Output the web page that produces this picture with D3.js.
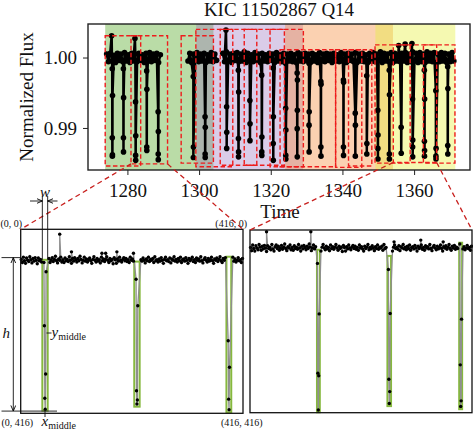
<!DOCTYPE html>
<meta charset="utf-8" />
<title>KIC 11502867 Q14</title>
<script src="https://d3js.org/d3.v7.min.js"></script>
<style>
  body { margin: 0; background: #fff; }
  svg { display: block; font-family: "Liberation Serif", "DejaVu Serif", serif; }
</style>
<div id="chart"></div>
<script>
  // ---------- top light curve ----------
  const segStart = [1274.2, 1296.9, 1306.6];
  const cadence = 0.5; // spacing of the plotted out-of-transit samples (days)
  const seg1Flux = [1.0005, 0.9994, 1.0006, 0.9995, 1.0003, 0.9993, 1.0006, 0.9996, 1.0005, 0.9994,
    1.0007, 0.9995, 1.0004, 0.9993, 1.0006, 0.9995, 1.0005, 0.9994, 1.0006, 0.9996,
    1.0004, 0.9993, 1.0006, 0.9995, 1.0007, 0.9994, 1.0005, 0.9996, 1.0006, 0.9993, 1.0004];
  const seg2Flux = [0.9995, 1.0006, 0.9993, 1.0005, 0.9996, 1.0007, 0.9994, 1.0005, 0.9995, 1.0006,
    0.9993, 1.0004, 0.9995, 1.0007, 0.9994, 1.0005, 0.9996];
  const seg3Flux = [1.0006, 0.9994, 1.0008, 0.9995, 1.0005, 0.9993, 1.0006, 0.9996, 1.0007, 0.9994,
    1.0005, 0.9995, 1.0008, 0.9993, 1.0006, 0.9995, 1.0004, 0.9994, 1.0007, 0.9996,
    1.0005, 0.9993, 1.0006, 0.9995, 1.0004, 0.9994, 1.0006, 0.9996, 1.0005, 0.9993,
    1.0007, 0.9995, 1.0004, 0.9994, 1.0006, 0.9992, 1.0005, 0.9995, 1.0006, 0.9994,
    1.0004, 0.9993, 1.0007, 0.9995, 1.0005, 0.9994, 1.0006, 0.9996, 1.0005, 0.9993,
    1.0006, 0.9995, 1.0004, 0.9993, 1.0007, 0.9995, 1.0005, 0.9994, 1.0006, 0.9996,
    1.0005, 0.9993, 1.0006, 0.9995, 1.0004, 0.9994, 1.0007, 0.9995, 1.0005, 0.9993,
    1.0006, 0.9996, 1.0005, 0.9994, 1.0007, 0.9993, 1.0005, 0.9995, 1.0006, 0.9994,
    1.0004, 0.9993, 1.0006, 0.9995, 1.0007, 0.9994, 1.0005, 0.9996, 1.0008, 0.9993,
    1.0006, 0.9995, 1.0005, 0.9994, 1.0007, 0.9993, 1.0006, 0.9995, 1.0004, 0.9994,
    1.0006, 0.9995, 1.0007, 0.9993, 1.0005, 0.9994, 1.0008, 0.9995, 1.0006, 0.9993,
    1.0007, 0.9994, 1.0005, 0.9993, 1.0008, 0.9995, 1.0006, 0.9994, 1.0007, 0.9993,
    1.0005, 0.9994, 1.0007, 0.9995, 1.0006, 0.9993, 1.0005, 0.9994, 1.0007, 0.9995];

  const transitTimes = [1275.8, 1278.9, 1282.3, 1285.4, 1288.6, 1298.4, 1301.7, 1307.7, 1311.0,
    1314.2, 1317.5, 1320.7, 1324.2, 1327.4, 1330.7, 1334.0, 1340.3, 1343.6, 1346.8, 1349.9,
    1353.1, 1356.4, 1359.6, 1362.9, 1366.1, 1369.4];
  const transitFlux = [
    [0.9984, 0.9886, 0.9860, 0.9862, 0.9946], [0.9984, 0.9886, 0.9866, 0.9943],
    [0.9937, 0.9861, 0.9854, 0.9889], [0.9981, 0.9873, 0.9868, 0.9955],
    [0.9923, 0.9863, 0.9855, 0.9895], [0.9973, 0.9858, 0.9873],
    [0.9916, 0.9863, 0.9858, 0.9901], [0.9930, 0.9871, 0.9894],
    [0.9982, 0.9885, 0.9859, 0.9866, 0.9951], [0.9939, 0.9882, 0.9906],
    [0.9975, 0.9866, 0.9861, 0.9887], [0.9985, 0.9878, 0.9854, 0.9916],
    [0.9928, 0.9861, 0.9856, 0.9897], [0.9978, 0.9899, 0.9859, 0.9925, 0.9968],
    [0.9992, 0.9904, 0.9866, 0.9923], [0.9966, 0.9873, 0.9860, 0.9962],
    [0.9968, 0.9873, 0.9861, 0.9965], [0.9921, 0.9860, 0.9904],
    [0.9974, 0.9863, 0.9878], [0.9925, 0.9871, 0.9856, 0.9890],
    [0.9982, 0.9863, 0.9856, 0.9947], [0.9901, 0.9864],
    [0.9941, 0.9873, 0.9859, 0.9883], [0.9982, 0.9881, 0.9860, 0.9868, 0.9941],
    [0.9953, 0.9860, 0.9856, 0.9871], [0.9987, 0.9875, 0.9863, 0.9956]];
  const outlierTimes = [1275.6, 1282.1, 1307.5, 1355.7, 1357.5, 1359.4];
  const outlierFlux = [1.0031, 1.0027, 1.0039, 1.0017, 1.0019, 1.0020];

  // coloured windows
  const bandStart = [1273.8, 1299.2, 1324.0, 1349.2];
  const bandEnd = [1304.0, 1329.0, 1354.1, 1371.5];
  const bandColors = ["rgb(102,178,60)", "rgb(150,110,190)", "rgb(245,140,60)", "rgb(230,240,60)"];
  const bandOpacity = [0.45, 0.35, 0.4, 0.4];

  // red dashed detection boxes
  const boxStart = [1273.8, 1281.0, 1295.0, 1299.1, 1305.9, 1312.6, 1319.8, 1322.6, 1338.1, 1341.7, 1349.1, 1354.2, 1362.6];
  const boxEnd = [1283.7, 1291.2, 1304.0, 1309.4, 1316.1, 1323.8, 1329.1, 1338.1, 1345.4, 1348.2, 1358.9, 1366.3, 1371.4];
  const boxTop = [1.0031, 1.0031, 1.0031, 1.0040, 1.0040, 1.0040, 1.0040, 1.0011, 1.0011, 1.0011, 1.0018, 1.0018, 1.0018];
  const boxBottom = [0.9846, 0.9849, 0.9850, 0.9845, 0.9847, 0.9847, 0.9845, 0.9845, 0.9844, 0.9846, 0.9850, 0.9851, 0.9850];
  const zoomBoxes = [1, 11]; // boxes shown enlarged below

  const xTicks = [1280, 1300, 1320, 1340, 1360];
  const yTicks = [0.99, 1.00];

  // ---------- enlarged windows (image pixels, 0..416) ----------
  const baseStep = 2;
  const leftBase = [68,75,63,71,77,65,70,73,62,69,76,66,72,64,70,78,
    65,71,68,74,62,72,77,67,63,71,66,75,70,64,73,68,
    61,71,76,67,70,63,74,69,75,65,71,68,73,62,70,77,
    66,72,64,69,74,66,71,61,68,76,70,63,72,67,74,69,
    65,71,77,68,62,70,74,66,72,69,76,63,71,67,73,68,
    62,70,75,66,71,68,78,64,69,77,67,72,63,70,74,68,
    64,71,66,73,69,75,63,70,67,72,77,66,71,68,62,74,
    69,72,65,70,76,67,71,63,73,68,70,66,75,62,71,69,
    74,67,72,64,70,77,68,63,71,69,73,65,76,67,70,62,
    72,68,74,66,71,63,75,69,67,72,64,70,77,66,71,68,
    63,73,69,75,65,70,67,72,62,71,76,68,64,70,74,66,
    72,69,63,71,77,67,70,65,73,68,62,71,75,66,70,64,
    73,68,71,65,76,69,63,72,67,74,70,64,71,69,75,66];
  const rightBase = [40,47,34,42,48,36,41,45,33,39,46,37,43,35,41,49,
    36,42,39,45,33,43,48,38,34,42,37,46,41,35,44,39,
    32,42,47,38,41,34,45,40,46,36,42,39,44,33,41,48,
    37,43,35,40,45,37,42,32,39,47,41,34,43,38,45,40,
    36,42,48,39,33,41,45,37,43,40,47,34,42,38,44,39,
    33,41,46,37,42,39,49,35,40,48,38,43,34,41,45,39,
    35,42,37,44,40,46,34,41,38,43,48,37,42,39,33,45,
    40,43,36,41,47,38,42,34,44,39,41,37,46,33,42,40,
    45,38,43,35,41,48,39,34,42,40,44,36,47,38,41,33,
    43,39,45,37,42,34,46,40,38,43,35,41,48,37,42,39,
    34,44,40,46,36,41,38,43,33,42,47,39,35,41,45,37,
    43,40,34,42,48,38,41,36,44,39,33,42,46,37,41,35,
    44,39,42,36,47,40,34,43,38,45,41,35,42,40,46,37];
  const leftTransitX = [45.5, 217.5, 389.5];
  const leftTransitY = [[75, 218, 382, 407, 327, 96], [113, 365, 395, 386, 173], [252, 384, 408, 312]];
  const leftBoxX0 = [40.5, 212.5, 385], leftBoxX1 = [50.5, 222.6, 394];
  const leftBoxY0 = [69, 73, 62], leftBoxY1 = [410, 401, 414];
  const leftOutX = [73, 95, 152, 159, 180, 211], leftOutY = [11, 51, 54, 54, 51, 54];
  const rightTransitX = [128, 261, 394.8];
  const rightTransitY = [[76, 326, 410, 332, 191], [90, 340, 395, 368, 190], [32, 307, 402, 389, 203]];
  const rightBoxX0 = [125.5, 257.5, 392], rightBoxX1 = [130.8, 264.3, 397.5];
  const rightBoxY0 = [45, 59, 29], rightBoxY1 = [415, 401, 408];
  const rightOutX = [31, 114, 270, 320, 362], rightOutY = [4, 4, 27, 23, 27];

  const W = 473, H = 431;
  const svg = d3.select("#chart").append("svg").attr("width", W).attr("height", H);

  const defs = svg.append("defs");
  defs.append("clipPath").attr("id", "plotclip").append("rect")
    .attr("x", 88).attr("y", 24).attr("width", 382).attr("height", 146);
  defs.append("marker").attr("id", "arr").attr("viewBox", "0 0 8 8")
    .attr("refX", 7.5).attr("refY", 4).attr("markerWidth", 6).attr("markerHeight", 6)
    .attr("markerUnits", "userSpaceOnUse").attr("orient", "auto-start-reverse")
    .append("path").attr("d", "M0,0.8L7.5,4L0,7.2").attr("fill", "none").attr("stroke", "#000").attr("stroke-width", 1.2);

  const x = d3.scaleLinear().domain([1269.0, 1375.6]).range([88, 470]);
  const y = d3.scaleLinear().domain([0.98403, 1.00476]).range([170, 24]);

  const plot = svg.append("g").attr("clip-path", "url(#plotclip)");

  bandStart.forEach((b, i) => {
    plot.append("rect")
      .attr("x", x(b)).attr("y", 24)
      .attr("width", x(bandEnd[i]) - x(b)).attr("height", 146)
      .attr("fill", bandColors[i]).attr("fill-opacity", bandOpacity[i]);
  });

  const segFlux = [seg1Flux, seg2Flux, seg3Flux];
  const segments = segFlux.map((fl, s) => {
    const t0 = segStart[s], t1 = t0 + (fl.length - 1) * cadence;
    const pts = fl.map((f, i) => ({ t: t0 + i * cadence, f }));
    transitTimes.forEach((tc, k) => {
      if (tc < t0 || tc > t1) return;
      const fk = transitFlux[k];
      fk.forEach((f, j) => pts.push({ t: tc + (j - (fk.length - 1) / 2) * 0.02, f }));
    });
    outlierTimes.forEach((tc, k) => {
      if (tc >= t0 && tc <= t1) pts.push({ t: tc, f: outlierFlux[k] });
    });
    return pts.sort((a, b) => a.t - b.t);
  });

  const line = d3.line().x(d => x(d.t)).y(d => y(d.f));
  segments.forEach(pts => {
    plot.append("path").attr("d", line(pts))
      .attr("fill", "none").attr("stroke", "#000").attr("stroke-width", 2.5).attr("stroke-linejoin", "round");
    plot.append("g").selectAll("circle").data(pts).join("circle")
      .attr("cx", d => x(d.t)).attr("cy", d => y(d.f)).attr("r", 2.8).attr("fill", "#000");
  });

  boxStart.forEach((b, i) => {
    plot.append("rect")
      .attr("x", x(b)).attr("y", y(boxTop[i]))
      .attr("width", x(boxEnd[i]) - x(b)).attr("height", y(boxBottom[i]) - y(boxTop[i]))
      .attr("fill", "none").attr("stroke", "#ee1c1c").attr("stroke-width", 1.4)
      .attr("stroke-dasharray", "4.5,2.5");
  });

  // axes
  const xAxis = svg.append("g").attr("transform", "translate(0,170)")
    .call(d3.axisBottom(x).tickValues(xTicks).tickFormat(d3.format("d")).tickSize(5).tickPadding(9));
  const yAxis = svg.append("g").attr("transform", "translate(88,0)")
    .call(d3.axisLeft(y).tickValues(yTicks).tickFormat(d3.format(".2f")).tickSize(5).tickPadding(6));
  [xAxis, yAxis].forEach(a => {
    a.select(".domain").remove();
    a.selectAll("text").attr("font-family", "Liberation Serif").attr("font-size", 19).attr("fill", "#111");
    a.selectAll("line").attr("stroke", "#222").attr("stroke-width", 1);
  });
  svg.append("rect").attr("x", 88).attr("y", 24).attr("width", 382).attr("height", 146)
    .attr("fill", "none").attr("stroke", "#222").attr("stroke-width", 1.4);

  svg.append("text").attr("x", 279).attr("y", 16).attr("text-anchor", "middle")
    .attr("font-size", 19).attr("fill", "#111").text("KIC 11502867 Q14");
  svg.append("text").attr("transform", "translate(33,97) rotate(-90)").attr("text-anchor", "middle")
    .attr("font-size", 19).attr("fill", "#111").text("Normalized Flux");
  svg.append("text").attr("x", 280).attr("y", 218).attr("text-anchor", "middle")
    .attr("font-size", 19).attr("fill", "#111").text("Time");

  // ---------- enlarged panels ----------
  function panel(frame, base, tX, tY, bx0, bx1, by0, by1, oX, oY) {
    const px = d3.scaleLinear().domain([0, 416]).range([frame[0], frame[2]]);
    const py = d3.scaleLinear().domain([0, 416]).range([frame[1], frame[3]]);
    const g = svg.append("g");
    g.append("rect").attr("x", frame[0]).attr("y", frame[1])
      .attr("width", frame[2] - frame[0]).attr("height", frame[3] - frame[1]).attr("fill", "#fff");
    const inBox = v => bx0.some((b, k) => v >= b - 1 && v <= bx1[k] + 1);
    const pts = [];
    base.forEach((v, i) => { const xv = 1 + i * baseStep; if (!inBox(xv)) pts.push({ u: xv, v }); });
    tX.forEach((c, k) => tY[k].forEach((v, j) => pts.push({ u: c + (j - (tY[k].length - 1) / 2) * 0.8, v })));
    oX.forEach((u, k) => pts.push({ u, v: oY[k] }));
    pts.sort((a, b) => a.u - b.u);
    bx0.forEach((b, k) => {
      g.append("rect").attr("x", px(b)).attr("y", py(by0[k]))
        .attr("width", px(bx1[k]) - px(b)).attr("height", py(by1[k]) - py(by0[k]))
        .attr("fill", "none").attr("stroke", "#86b83e").attr("stroke-width", 2);
    });
    g.append("path").attr("d", d3.line().x(d => px(d.u)).y(d => py(d.v))(pts))
      .attr("fill", "none").attr("stroke", "#8f8f8f").attr("stroke-width", 1.3);
    g.selectAll("circle").data(pts).join("circle")
      .attr("cx", d => px(d.u)).attr("cy", d => py(d.v)).attr("r", 1.7).attr("fill", "#000");
    g.append("rect").attr("x", frame[0]).attr("y", frame[1])
      .attr("width", frame[2] - frame[0]).attr("height", frame[3] - frame[1])
      .attr("fill", "none").attr("stroke", "#111").attr("stroke-width", 1.3);
    return { px, py };
  }

  const leftFrame = [20.7, 229.3, 243, 413.3];
  const rightFrame = [250, 230, 472, 412.7];
  const L = panel(leftFrame, leftBase, leftTransitX, leftTransitY, leftBoxX0, leftBoxX1, leftBoxY0, leftBoxY1, leftOutX, leftOutY);
  panel(rightFrame, rightBase, rightTransitX, rightTransitY, rightBoxX0, rightBoxX1, rightBoxY0, rightBoxY1, rightOutX, rightOutY);

  // dashed connectors from the chosen boxes to the panels
  const conn = svg.append("g").attr("stroke", "#c8201e").attr("stroke-width", 1.3)
    .attr("stroke-dasharray", "5,3.5").attr("fill", "none");
  [leftFrame, rightFrame].forEach((fr, k) => {
    const b = zoomBoxes[k];
    conn.append("line").attr("x1", x(boxStart[b])).attr("y1", y(boxBottom[b])).attr("x2", fr[0]).attr("y2", fr[1]);
    conn.append("line").attr("x1", x(boxEnd[b])).attr("y1", y(boxBottom[b])).attr("x2", fr[2]).attr("y2", fr[1]);
  });

  // annotations on the left panel
  const ann = svg.append("g").attr("stroke", "#111").attr("stroke-width", 0.9).attr("fill", "none");
  const xw0 = L.px(leftBoxX0[0]), xw1 = L.px(leftBoxX1[0]);
  const yTop = L.py(64), yBot = L.py(411);
  ann.append("line").attr("x1", xw0).attr("y1", 196).attr("x2", xw0).attr("y2", L.py(leftBoxY0[0]));
  ann.append("line").attr("x1", xw1).attr("y1", 196).attr("x2", xw1).attr("y2", L.py(leftBoxY0[0]));
  ann.append("line").attr("x1", 30).attr("y1", 201).attr("x2", xw0).attr("y2", 201).attr("marker-end", "url(#arr)");
  ann.append("line").attr("x1", 57.5).attr("y1", 201).attr("x2", xw1).attr("y2", 201).attr("marker-end", "url(#arr)");
  ann.append("line").attr("x1", 1.5).attr("y1", yTop).attr("x2", 20.7).attr("y2", yTop);
  ann.append("line").attr("x1", 1.5).attr("y1", yBot).attr("x2", 57).attr("y2", yBot);
  ann.append("line").attr("x1", 13.3).attr("y1", yTop).attr("x2", 13.3).attr("y2", yBot)
    .attr("marker-start", "url(#arr)").attr("marker-end", "url(#arr)");
  const xm = L.px(leftTransitX[0]);
  ann.append("line").attr("x1", xm).attr("y1", yBot).attr("x2", xm).attr("y2", 417);
  ann.append("line").attr("x1", xm + 1.5).attr("y1", 333).attr("x2", 51.5).attr("y2", 333);

  const txt = svg.append("g").attr("fill", "#111");
  txt.append("text").attr("x", (xw0 + xw1) / 2).attr("y", 197).attr("text-anchor", "middle")
    .attr("font-size", 15).attr("font-style", "italic").text("w");
  txt.append("text").attr("x", 2.5).attr("y", 338).attr("font-size", 15).attr("font-style", "italic").text("h");
  const ym = txt.append("text").attr("x", 51.5).attr("y", 337).attr("font-size", 15);
  ym.append("tspan").attr("font-style", "italic").text("y");
  ym.append("tspan").attr("font-size", 10).attr("dy", 3).text("middle");
  const xmid = txt.append("text").attr("x", 41.5).attr("y", 425.5).attr("font-size", 15);
  xmid.append("tspan").attr("font-style", "italic").text("x");
  xmid.append("tspan").attr("font-size", 10).attr("dy", 3).text("middle");

  const corner = [["(0, 0)", 0.5, 227, "start"], ["(416, 0)", 247, 226.5, "end"],
    ["(0, 416)", 1.5, 426, "start"], ["(416, 416)", 221, 426, "start"]];
  corner.forEach(c => {
    txt.append("text").attr("x", c[1]).attr("y", c[2]).attr("text-anchor", c[3])
      .attr("font-size", 10).text(c[0]);
  });
</script>
